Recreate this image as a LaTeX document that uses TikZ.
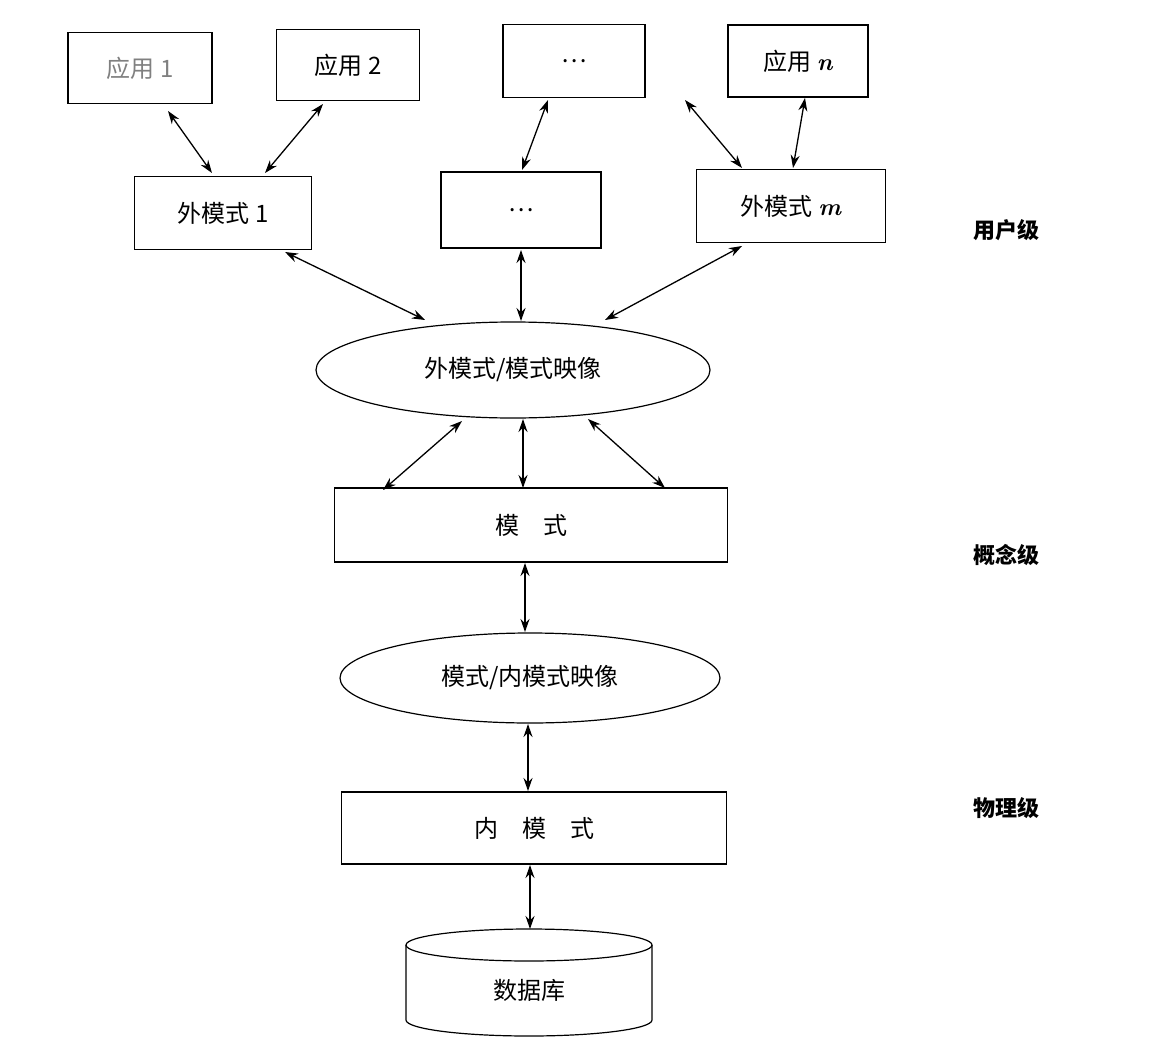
\documentclass[tikz,border=0pt]{standalone}
\usepackage{fontspec}
\newfontfamily\cjk{Noto Sans CJK SC}
\usetikzlibrary{arrows.meta,shapes.geometric}
\begin{document}
\begin{tikzpicture}[x=1pt,y=-1pt,
  box/.style={draw,line width=1.2pt,inner sep=0pt},
  ell/.style={draw,ellipse,line width=1.2pt,inner sep=0pt},
  lab/.style={font=\cjk\fontsize{24}{28}\selectfont},
  ar/.style={line width=1.3pt,{Stealth[length=13pt,width=9pt]}-{Stealth[length=13pt,width=9pt]}}]
\useasboundingbox (0,0) rectangle (1166,1051);
\tikzset{every node/.style={lab}}
\node[box,minimum width=144pt,minimum height=71pt,text=gray] (a1) at (140,68) {应用 1};
\node[box,minimum width=143pt,minimum height=71pt] (a2) at (348,65) {应用 2};
\node[box,minimum width=142pt,minimum height=73pt] (a3) at (574,61) {…};
\node[box,minimum width=140pt,minimum height=72pt] (an) at (798,61) {应用 {\rmfamily\bfseries\itshape n}};
\node[box,minimum width=177pt,minimum height=73pt] (e1) at (223,213) {外模式 1};
\node[box,minimum width=160pt,minimum height=76pt] (e2) at (521,210) {…};
\node[box,minimum width=189pt,minimum height=73pt] (em) at (791,206) {外模式 {\rmfamily\bfseries\itshape m}};
\node[ell,minimum width=394pt,minimum height=96pt] (m1) at (513,370) {外模式/模式映像};
\node[box,minimum width=393pt,minimum height=74pt] (s) at (531,525) {模\quad 式};
\node[ell,minimum width=380pt,minimum height=90pt] (m2) at (530,678) {模式/内模式映像};
\node[box,minimum width=385pt,minimum height=72pt] (in) at (534,828) {内\quad 模\quad 式};
\draw[line width=1.2pt] (406,945) -- (406,1020) arc[start angle=180,end angle=0,x radius=123,y radius=16] -- (652,945);
\draw[line width=1.2pt] (529,945) ellipse[x radius=123,y radius=16];
\node (db) at (529,990) {数据库};
\coordinate (dbt) at (530,929);
\coordinate (free) at (685,100);
\node[font=\cjk\bfseries\fontsize{22}{26}\selectfont] at (1006,230) {用户级};
\node[font=\cjk\bfseries\fontsize{22}{26}\selectfont] at (1006,555) {概念级};
\node[font=\cjk\bfseries\fontsize{22}{26}\selectfont] at (1006,808) {物理级};
\draw[ar] (168,111) -- (212,173);
\draw[ar] (323,104) -- (265,173);
\draw[ar] (548,100) -- (522,170);
\draw[ar] (free) -- (742,168);
\draw[ar] (805,98) -- (793,168);
\draw[ar] (285,252) -- (425,320);
\draw[ar] (521,250) -- (521,321);
\draw[ar] (742,246) -- (605,320);
\draw[ar] (462,421) -- (383,490);
\draw[ar] (523,419) -- (523,488);
\draw[ar] (588,419) -- (665,488);
\draw[ar] (525,563) -- (525,632);
\draw[ar] (528,724) -- (528,791);
\draw[ar] (530,865) -- (dbt);
\end{tikzpicture}
\end{document}
